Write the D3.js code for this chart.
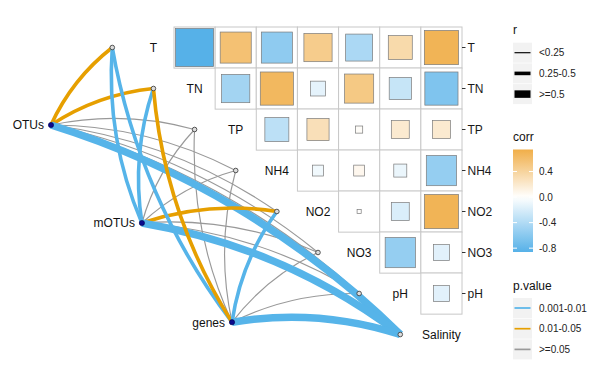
<!DOCTYPE html>
<html><head><meta charset="utf-8">
<script src="https://cdn.jsdelivr.net/npm/d3@7"></script>
<style>body{margin:0;background:#fff}svg{display:block}text{font-family:"Liberation Sans",Arial,Helvetica,sans-serif}</style>
</head><body><svg id="c" width="600" height="379"></svg>
<script>
// ---------- data ----------
const envVars = ["T","TN","TP","NH4","NO2","NO3","pH","Salinity"];
const specs = ["OTUs","mOTUs","genes"];
// upper triangle of Pearson r: row i against envVars i+1 .. 7
const corrT   = [-0.86, 0.57, -0.57, 0.47, -0.43, 0.34, 0.69];
const corrTN  = [-0.47, 0.65, -0.13, 0.50, -0.29, -0.65];
const corrTP  = [-0.34, 0.29, 0.03, 0.19, 0.19];
const corrNH4 = [-0.07, 0.07, -0.10, -0.54];
const corrNO2 = [0.01, -0.19, 0.69];
const corrNO3 = [-0.54, -0.15];
const corrPH  = [-0.15];
const corrRows = [corrT, corrTN, corrTP, corrNH4, corrNO2, corrNO3, corrPH];
// Mantel classes per spec, in envVars order
const rClasses = ["<0.25","0.25-0.5",">=0.5"];
const pClasses = ["0.001-0.01","0.01-0.05",">=0.05"];
const otusR  = [1,1,0,0,0,0,0,2];
const motusR = [1,1,0,0,1,0,0,2];
const genesR = [1,1,0,0,1,0,0,2];
const otusP  = [1,1,2,2,2,2,2,0];
const motusP = [0,0,2,2,1,2,2,0];
const genesP = [0,1,2,2,0,2,2,0];
const corrTicks = [0.4, 0.0, -0.4, -0.8];
const corrRange = [-0.86, 0.745];

// ---------- layout ----------
const svg = d3.select("#c");
const x = d3.scaleLinear().domain([0,7]).range([174,462]);
const y = d3.scaleLinear().domain([0,7]).range([27,314]);
const cell = x(1)-x(0);
const side = d3.scaleSqrt().domain([0,1]).range([0,cell]);
const fill = d3.scaleLinear().domain([corrRange[0],0,corrRange[1]])
  .range(["#56B1E8","#ffffff","#F0AE48"]);
const pColor = d3.scaleOrdinal().domain([0,1,2]).range(["#56B4E9","#E69F00","#999999"]);
const rWidth = d3.scaleOrdinal().domain([0,1,2]).range([1.15,3.6,7.5]);
const specGridX = [-2.99,-0.78,1.41], specGridY = [2.39,4.78,7.2];

// ---------- heatmap ----------
const cells = [];
corrRows.forEach((row,i)=>row.forEach((v,k)=>cells.push({i, j:i+k, v})));
const gH = svg.append("g");
gH.selectAll("rect.cell").data(cells).join("rect")
  .attr("x",d=>x(d.j)).attr("y",d=>y(d.i)).attr("width",cell).attr("height",cell)
  .attr("fill","#fff").attr("stroke","#c8c8c8").attr("stroke-width",1);
gH.selectAll("rect.sq").data(cells).join("rect")
  .attr("x",d=>x(d.j)+cell/2-side(Math.abs(d.v))/2)
  .attr("y",d=>y(d.i)+cell/2-side(Math.abs(d.v))/2)
  .attr("width",d=>side(Math.abs(d.v))).attr("height",d=>side(Math.abs(d.v)))
  .attr("fill",d=>fill(d.v)).attr("stroke","#7a7a7a").attr("stroke-width",0.7);

// right axis
const rows = envVars.slice(0,7);
const gA = svg.append("g");
rows.forEach((n,i)=>{
  const yy = y(i+0.5);
  gA.append("line").attr("x1",x(7)).attr("x2",x(7)+3.5).attr("y1",yy).attr("y2",yy)
    .attr("stroke","#333").attr("stroke-width",1);
  gA.append("text").attr("x",x(7)+5.5).attr("y",yy).attr("dy","0.36em")
    .attr("font-size",12).attr("fill","#1a1a1a").text(n);
});
// diagonal labels
envVars.forEach((n,i)=>{
  svg.append("text").attr("x",x(i-0.5)).attr("y",y(i+0.5)).attr("dy","0.36em")
    .attr("text-anchor","middle").attr("font-size",12).attr("fill","#111").text(n);
});

// ---------- mantel links ----------
const envPos = envVars.map((n,i)=>[x(i-1.5), y(i+0.5)]);
const specPos = specs.map((s,k)=>[x(specGridX[k]), y(specGridY[k])]);
const rAll = [otusR, motusR, genesR], pAll = [otusP, motusP, genesP];
const links = [];
specs.forEach((s,k)=>envVars.forEach((e,i)=>links.push({k,i,r:rAll[k][i],p:pAll[k][i]})));
links.sort((a,b)=>(b.p===2)-(a.p===2));
function arc(a,b){
  const dx=b[0]-a[0], dy=b[1]-a[1], L=Math.hypot(dx,dy);
  const s=0.06*L; const R=(L*L/4+s*s)/(2*s);
  return `M${a[0]},${a[1]}A${R},${R} 0 0 1 ${b[0]},${b[1]}`;
}
svg.append("g").selectAll("path").data(links).join("path")
  .attr("d",d=>arc(specPos[d.k], envPos[d.i]))
  .attr("fill","none").attr("stroke",d=>pColor(d.p)).attr("stroke-width",d=>rWidth(d.r));

svg.append("g").selectAll("circle").data(envPos).join("circle")
  .attr("cx",d=>d[0]).attr("cy",d=>d[1]).attr("r",2.3)
  .attr("fill","#dcdcdc").attr("stroke","#444").attr("stroke-width",0.9);
svg.append("g").selectAll("circle").data(specPos).join("circle")
  .attr("cx",d=>d[0]).attr("cy",d=>d[1]).attr("r",2.6)
  .attr("fill","#0a0a8c").attr("stroke","#000050").attr("stroke-width",0.6);
specs.forEach((s,k)=>{
  svg.append("text").attr("x",specPos[k][0]-7).attr("y",specPos[k][1]).attr("dy","0.36em")
    .attr("text-anchor","end").attr("font-size",12).attr("fill","#111").text(s);
});

// ---------- legends ----------
const LX = 513;
const gL = svg.append("g");
gL.append("text").attr("x",LX).attr("y",34).attr("font-size",12).attr("fill","#111").text("r");
rClasses.forEach((c,i)=>{
  const cy = 52.7 + i*20.7;
  gL.append("rect").attr("x",LX).attr("y",cy-10).attr("width",19).attr("height",20).attr("fill","#f2f2f2");
  gL.append("line").attr("x1",LX+1.5).attr("x2",LX+17.5).attr("y1",cy).attr("y2",cy)
    .attr("stroke","#000").attr("stroke-width",rWidth(i));
  gL.append("text").attr("x",LX+26).attr("y",cy).attr("dy","0.36em").attr("font-size",10).attr("fill","#222").text(c);
});
gL.append("text").attr("x",LX).attr("y",141).attr("font-size",12).attr("fill","#111").text("corr");
const cbY = d3.scaleLinear().domain(corrRange).range([252,149.5]);
const grad = svg.append("defs").append("linearGradient").attr("id","cb")
  .attr("x1",0).attr("x2",0).attr("y1",1).attr("y2",0);
d3.range(0,1.0001,0.05).forEach(t=>{
  grad.append("stop").attr("offset",t).attr("stop-color",fill(corrRange[0]+t*(corrRange[1]-corrRange[0])));
});
gL.append("rect").attr("x",LX).attr("y",cbY(corrRange[1])).attr("width",20)
  .attr("height",cbY(corrRange[0])-cbY(corrRange[1])).attr("fill","url(#cb)");
corrTicks.forEach(v=>{
  const yy=cbY(v);
  gL.append("line").attr("x1",LX).attr("x2",LX+4).attr("y1",yy).attr("y2",yy).attr("stroke","#fff").attr("stroke-width",1);
  gL.append("line").attr("x1",LX+16).attr("x2",LX+20).attr("y1",yy).attr("y2",yy).attr("stroke","#fff").attr("stroke-width",1);
  gL.append("text").attr("x",LX+26).attr("y",yy).attr("dy","0.36em").attr("font-size",10).attr("fill","#222").text(v.toFixed(1));
});
gL.append("text").attr("x",LX).attr("y",290).attr("font-size",12).attr("fill","#111").text("p.value");
pClasses.forEach((c,i)=>{
  const cy = 308 + i*20.7;
  gL.append("rect").attr("x",LX).attr("y",cy-10).attr("width",19).attr("height",20).attr("fill","#f2f2f2");
  gL.append("line").attr("x1",LX+1.5).attr("x2",LX+17.5).attr("y1",cy).attr("y2",cy)
    .attr("stroke",pColor(i)).attr("stroke-width",1.7);
  gL.append("text").attr("x",LX+26).attr("y",cy).attr("dy","0.36em").attr("font-size",10).attr("fill","#222").text(c);
});
</script></body></html>
